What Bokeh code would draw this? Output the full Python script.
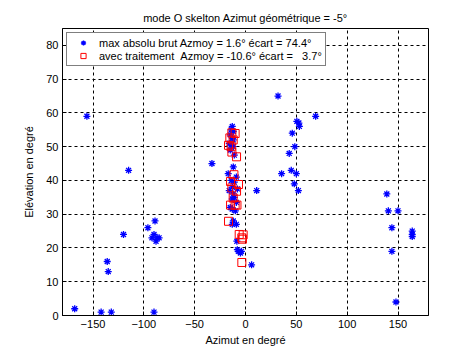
from bokeh.plotting import figure
from bokeh.models import FixedTicker, Range1d, Legend, LegendItem
from bokeh.embed import file_html
from bokeh.resources import INLINE

# ---- data (azimut, elevation in degrees) ----
raw_az = [-156, -115, -89, -96, -120, -90, -92, -87, -85, -88, -136, -135, -168, -142, -132, -90,
          32, 69, 50.5, 52.5, 53, 46, 48.5, 43, 45, 35.5, 50, 48, 52, 11, -33, 6,
          139, 140.5, 150, 144, 164, 164, 164, 144, 148,
          -13, -14, -12, -15, -13, -12, -16, -14, -12, -15, -11, -12, -17, -9, -14, -11, -13,
          -8, -16, -12, -11, -13, -9, -15, -13, -10, -12, -13, -9, -8.5, -7, -8, -4, -5]
raw_el = [59, 43, 28, 26, 24, 24, 23, 23, 23, 22, 16, 13, 2, 1, 1, 1,
          65, 59, 57.5, 57, 56, 54, 50, 48, 43, 42, 42, 39, 37, 37, 45, 15,
          36, 31, 31, 26, 25, 24, 23.4, 19, 4,
          56, 55, 54.5, 53.5, 52.5, 52, 51, 50.5, 50, 49, 47.5, 44, 42, 41, 40, 39.5, 38,
          37.5, 37, 36, 35, 34.5, 33.5, 32, 31.5, 31, 28, 27, 27, 22, 19, 19.5, 19, 18.5]
trt_az = [-13.4, -10.2, -15.4, -12.1, -16.7, -14.1, -13.4, -8.8, -11.4, -14.7, -6.9, -13.4,
          -8.8, -12.1, -10.2, -14.7, -8.4, -16.7, -6.2, -2.3, -3.6, -3.0, -3.6]
trt_el = [54.1, 53.9, 52.6, 52.0, 50.4, 50.0, 48.4, 47.0, 41.7, 39.7, 38.8, 37.8,
          36.8, 34.8, 32.7, 32.7, 32.7, 27.9, 24.0, 23.9, 23.0, 22.6, 15.7]

x_ticks = [-150, -100, -50, 0, 50, 100, 150]
y_ticks = [0, 10, 20, 30, 40, 50, 60, 70, 80]

title_txt = "mode O skelton Azimut géométrique = -5°"
x_label = "Azimut en degré"
y_label = "Elévation en degré"
leg_raw = "max absolu brut Azmoy = 1.6° écart = 74.4°"
leg_trt = "avec traitement\u00a0\u00a0Azmoy = -10.6° écart =\u00a0\u00a0\u00a03.7°"

FONT = "Liberation Sans"

p = figure(width=474, height=355, output_backend="svg", toolbar_location=None,
           x_range=Range1d(-180, 180), y_range=Range1d(0, 85),
           min_border_left=62, min_border_right=46, min_border_top=28, min_border_bottom=40,
           background_fill_color="white", border_fill_color="white")
p.title.text = title_txt
p.title.align = "center"
p.title.text_font = FONT
p.title.text_font_size = "11px"
p.title.text_font_style = "normal"
p.title.text_color = "black"
p.outline_line_color = "black"
p.outline_line_width = 1

for ax in (p.xaxis[0], p.yaxis[0]):
    ax.major_label_text_font = FONT
    ax.major_label_text_font_size = "11px"
    ax.major_label_text_color = "black"
    ax.axis_label_text_font = FONT
    ax.axis_label_text_font_size = "11px"
    ax.axis_label_text_font_style = "normal"
    ax.axis_label_text_color = "black"
    ax.major_tick_in = 4
    ax.major_tick_out = 0
    ax.minor_tick_in = 0
    ax.minor_tick_out = 0
    ax.axis_line_color = "black"
    ax.major_tick_line_color = "black"
p.xaxis[0].ticker = FixedTicker(ticks=x_ticks)
p.yaxis[0].ticker = FixedTicker(ticks=y_ticks)
p.xaxis[0].axis_label = x_label
p.yaxis[0].axis_label = y_label
p.xaxis[0].major_label_standoff = 4
p.yaxis[0].major_label_standoff = 4
p.xaxis[0].axis_label_standoff = 3
p.yaxis[0].axis_label_standoff = 8

p.xgrid.ticker = FixedTicker(ticks=x_ticks)
p.ygrid.ticker = FixedTicker(ticks=y_ticks)
for g in (p.xgrid[0], p.ygrid[0]):
    g.grid_line_color = "black"
    g.grid_line_alpha = 1.0
    g.grid_line_dash = "3 3"
    g.grid_line_width = 1

r1 = p.scatter(raw_az, raw_el, marker="asterisk", size=7, line_color="blue", line_width=1.3)
r2 = p.scatter(trt_az, trt_el, marker="square", size=8, fill_color=None, line_color="red", line_width=1)

legend = Legend(items=[LegendItem(label=leg_raw, renderers=[r1]),
                       LegendItem(label=leg_trt, renderers=[r2])],
                location="top_left")
legend.label_text_font = FONT
legend.label_text_font_size = "11px"
legend.label_text_color = "black"
legend.border_line_color = "black"
legend.border_line_width = 1
legend.background_fill_alpha = 1.0
legend.padding = 3
legend.margin = 4
legend.spacing = 0
legend.glyph_width = 26
legend.glyph_height = 13
legend.label_height = 13
legend.label_standoff = 3
p.add_layout(legend)

open("out.html", "w").write(file_html(p, INLINE))
